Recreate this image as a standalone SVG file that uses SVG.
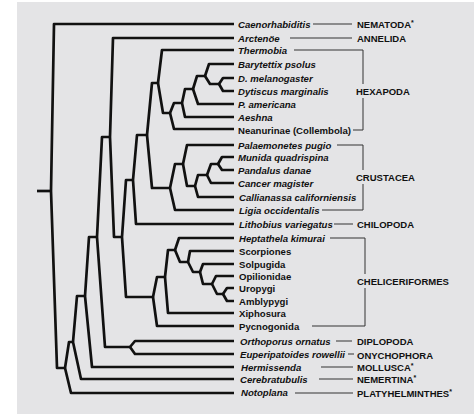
<svg xmlns="http://www.w3.org/2000/svg" width="474" height="417" viewBox="0 0 474 417">
<style>
.t{fill:none;stroke:#111;stroke-width:2.7;stroke-linejoin:round;stroke-linecap:butt}
.c{fill:none;stroke:#333;stroke-width:1}
text{font-family:"Liberation Sans",Arial,sans-serif;font-size:9.6px;font-weight:bold;fill:#111}
.i{font-style:italic}
.g{font-size:9.5px}
.s{font-size:7px}
</style>
<rect x="0" y="0" width="474" height="417" fill="#fff"/>
<rect x="17" y="2" width="457" height="412" fill="#e4e4e6"/>
<g id="tree" class="t">
<path d="M37 191H51"/>
<path d="M51 191L54 24H234"/>
<path d="M51 191L57 368H65"/>
<path d="M65 368L69 342H73"/>
<path d="M65 368L71 393H234"/>
<path d="M73 342L77 296H85"/>
<path d="M73 342L81 379H234"/>
<path d="M85 296L89 237H97"/>
<path d="M85 296L92 367H234"/>
<path d="M97 237L102 137H110"/>
<path d="M97 237L105 347H130"/>
<path d="M130 347L135 341H234"/>
<path d="M130 347L135 354H234"/>
<path d="M110 137L113 38H234"/>
<path d="M110 137L114 237H122"/>
<path d="M122 237L126 180H133"/>
<path d="M122 237L126 297H153"/>
<path d="M133 180L137 135H147"/>
<path d="M133 180L136 224H234"/>
<path d="M147 135L152 83H158"/>
<path d="M147 135L152 188H170"/>
<path d="M158 83L162 50H234"/>
<path d="M158 83L163 113H170"/>
<path d="M170 113L174 103H182"/>
<path d="M170 113L174 129H234"/>
<path d="M182 103L185 89H193"/>
<path d="M182 103L185 117H234"/>
<path d="M193 89L197 76H205"/>
<path d="M193 89L198 104H234"/>
<path d="M205 76L209 64H234"/>
<path d="M205 76L210 84H219"/>
<path d="M219 84L223 78H234"/>
<path d="M219 84L223 91H234"/>
<path d="M170 188L175 164H183"/>
<path d="M170 188L175 210H234"/>
<path d="M183 164L187 145H234"/>
<path d="M183 164L187 186H195"/>
<path d="M195 186L198 175H207"/>
<path d="M195 186L198 197H234"/>
<path d="M207 175L211 164H218"/>
<path d="M207 175L211 183H234"/>
<path d="M218 164L222 157H234"/>
<path d="M218 164L222 170H234"/>
<path d="M153 297L157 277H165"/>
<path d="M153 297L157 326H234"/>
<path d="M165 277L168 250H175"/>
<path d="M165 277L168 313H234"/>
<path d="M175 250L179 238H234"/>
<path d="M175 250L180 262H188"/>
<path d="M188 262L190 251H234"/>
<path d="M188 262L193 272H200"/>
<path d="M200 272L203 264H234"/>
<path d="M200 272L203 284H212"/>
<path d="M212 284L216 276H234"/>
<path d="M212 284L217 294H223"/>
<path d="M223 294L227 288H234"/>
<path d="M223 294L227 301H234"/>
</g>
<g id="connectors" class="c">
<path d="M313 24H352"/>
<path d="M290 38H352"/>
<path d="M294 50H363V84M363 98V130H353"/>
<path d="M337 145H363V170M363 184V210H322"/>
<path d="M334 224H353"/>
<path d="M330 238H365V274M365 288V326H312"/>
<path d="M336 341H352"/>
<path d="M348 354H354"/>
<path d="M321 367H353"/>
<path d="M319 379H353"/>
<path d="M295 393H353"/>
</g>
<g id="taxa">
<g id="caenorhabiditis"><text class="i" x="238" y="27.5">Caenorhabiditis</text></g>
<g id="arctenoe"><text class="i" x="238" y="41.5">Arctenöe</text></g>
<g id="thermobia"><text class="i" x="238" y="53.5">Thermobia</text></g>
<g id="barytettix"><text class="i" x="238" y="67.5">Barytettix psolus</text></g>
<g id="dmelanogaster"><text class="i" x="238" y="81.5">D. melanogaster</text></g>
<g id="dytiscus"><text class="i" x="238" y="94.5">Dytiscus marginalis</text></g>
<g id="pamericana"><text class="i" x="238" y="107.5">P. americana</text></g>
<g id="aeshna"><text class="i" x="238" y="120.5">Aeshna</text></g>
<g id="neanurinae"><text x="238" y="133.5">Neanurinae (Collembola)</text></g>
<g id="palaemonetes"><text class="i" x="238" y="148.5">Palaemonetes pugio</text></g>
<g id="munida"><text class="i" x="238" y="160.5">Munida quadrispina</text></g>
<g id="pandalus"><text class="i" x="238" y="173.5">Pandalus danae</text></g>
<g id="cancer"><text class="i" x="238" y="186.5">Cancer magister</text></g>
<g id="callianassa"><text class="i" x="239" y="200.5">Callianassa californiensis</text></g>
<g id="ligia"><text class="i" x="239" y="213.5">Ligia occidentalis</text></g>
<g id="lithobius"><text class="i" x="239" y="227.5">Lithobius variegatus</text></g>
<g id="heptathela"><text class="i" x="239" y="241.5">Heptathela kimurai</text></g>
<g id="scorpiones"><text x="239" y="255">Scorpiones</text></g>
<g id="solpugida"><text x="239" y="268">Solpugida</text></g>
<g id="opilionidae"><text x="239" y="280">Opilionidae</text></g>
<g id="uropygi"><text x="239" y="291.5">Uropygi</text></g>
<g id="amblypygi"><text x="239" y="304.5">Amblypygi</text></g>
<g id="xiphosura"><text x="239" y="316.5">Xiphosura</text></g>
<g id="pycnogonida"><text x="239" y="329.5">Pycnogonida</text></g>
<g id="orthoporus"><text class="i" x="240" y="344.5">Orthoporus ornatus</text></g>
<g id="euperipatoides"><text class="i" x="240" y="357.5">Euperipatoides rowellii</text></g>
<g id="hermissenda"><text class="i" x="241" y="370.5">Hermissenda</text></g>
<g id="cerebratubulis"><text class="i" x="240" y="382.5">Cerebratubulis</text></g>
<g id="notoplana"><text class="i" x="241" y="396">Notoplana</text></g>
</g>
<g id="groups">
<g id="nematoda"><text class="g" x="357" y="27.5">NEMATODA<tspan class="s" dy="-3">*</tspan></text></g>
<g id="annelida"><text class="g" x="357" y="41.5">ANNELIDA</text></g>
<g id="hexapoda"><text class="g" x="356" y="94.5">HEXAPODA</text></g>
<g id="crustacea"><text class="g" x="356" y="180.5">CRUSTACEA</text></g>
<g id="chilopoda"><text class="g" x="357" y="227.5">CHILOPODA</text></g>
<g id="cheliceriformes"><text class="g" x="357" y="284.5">CHELICERIFORMES</text></g>
<g id="diplopoda"><text class="g" x="357" y="344.5">DIPLOPODA</text></g>
<g id="onychophora"><text class="g" x="357" y="358.5">ONYCHOPHORA</text></g>
<g id="mollusca"><text class="g" x="357" y="370.5">MOLLUSCA<tspan class="s" dy="-3">*</tspan></text></g>
<g id="nemertina"><text class="g" x="357" y="383">NEMERTINA<tspan class="s" dy="-3">*</tspan></text></g>
<g id="platyhelminthes"><text class="g" x="357" y="396.5">PLATYHELMINTHES<tspan class="s" dy="-3">*</tspan></text></g>
</g>
</svg>
